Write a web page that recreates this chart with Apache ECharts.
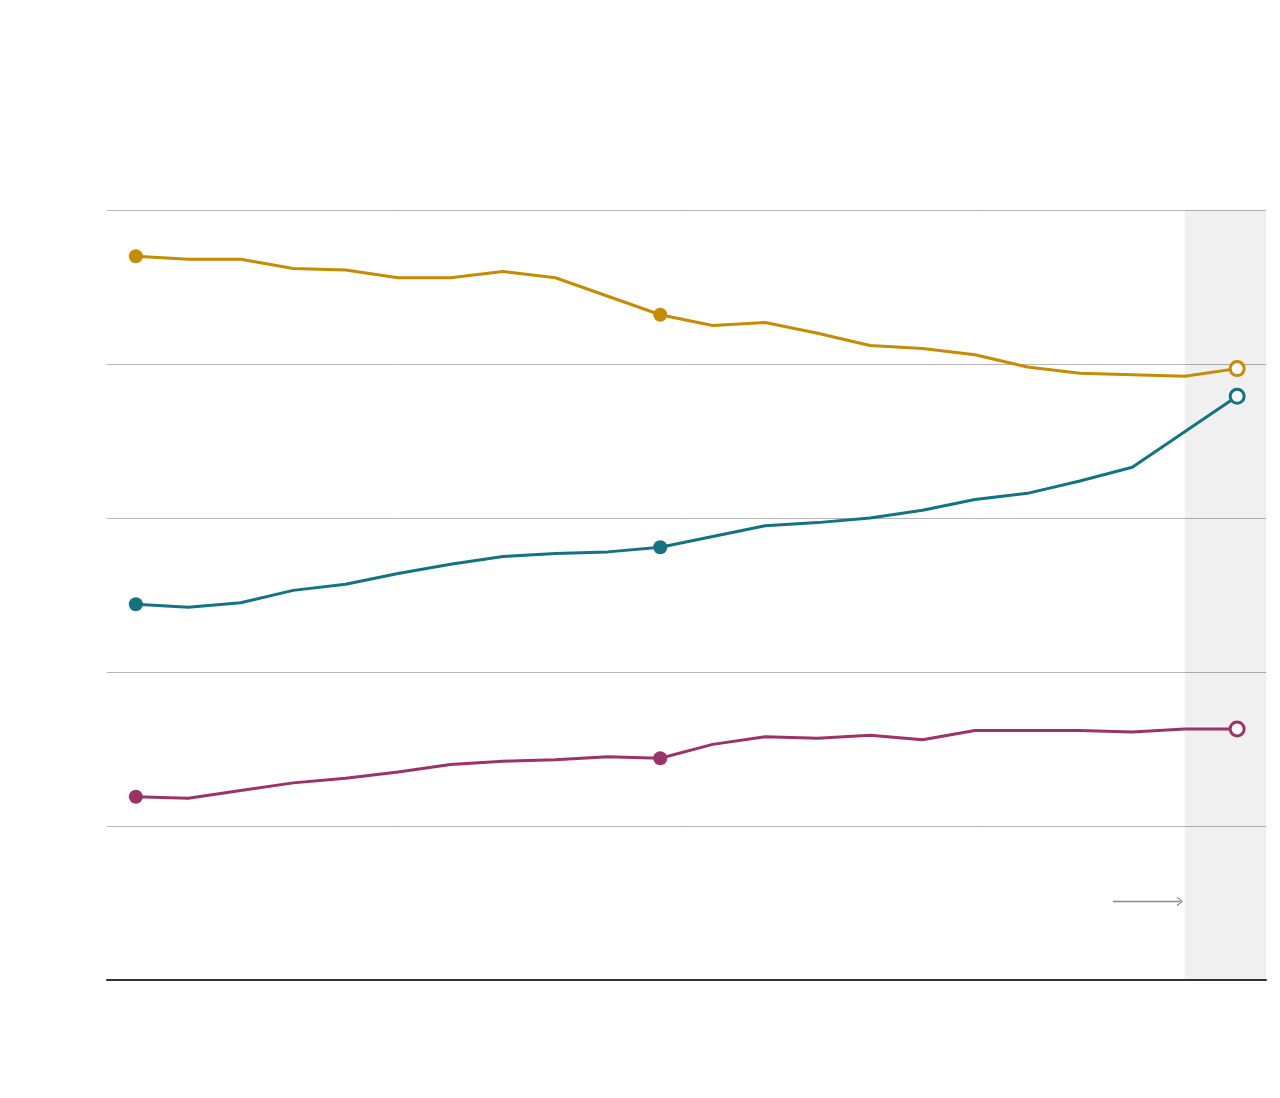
<!DOCTYPE html>
<html>
<head>
<meta charset="utf-8">
<script src="https://cdn.jsdelivr.net/npm/echarts@6/dist/echarts.min.js"></script>
<style>
  html, body { margin: 0; padding: 0; background: #fff; }
  #chart { width: 1280px; height: 1098px; }
</style>
</head>
<body>
<div id="chart"></div>
<script>
// x positions (periods), no labels are shown in the picture
const periods = [0, 1, 2, 3, 4, 5, 6, 7, 8, 9, 10, 11, 12, 13, 14, 15, 16, 17, 18, 19, 20, 21]

// series values (y axis 0..50)
const goldValues = [47.0, 46.8, 46.8, 46.2, 46.1, 45.6, 45.6, 46.0, 45.6, 44.4, 43.2, 42.5, 42.7, 42.0, 41.2, 41.0, 40.6, 39.8, 39.4, 39.3, 39.2, 39.7]
const tealValues = [24.4, 24.2, 24.5, 25.3, 25.7, 26.4, 27.0, 27.5, 27.7, 27.8, 28.1, 28.8, 29.5, 29.7, 30.0, 30.5, 31.2, 31.6, 32.4, 33.3, 35.6, 37.9]
const plumValues = [11.9, 11.8, 12.3, 12.8, 13.1, 13.5, 14.0, 14.2, 14.3, 14.5, 14.4, 15.3, 15.8, 15.7, 15.9, 15.6, 16.2, 16.2, 16.2, 16.1, 16.3, 16.3]

// which points carry a marker
const filledAt = [0, 10]
const hollowAt = [21]

// shaded projection band and arrow note
const shadeFrom = 20
const arrowFrom = [18.63, 5.1]
const arrowTo = [19.91, 5.1]

const chart = echarts.init(document.getElementById('chart'))

function buildData(values, color) {
  return values.map((v, i) => {
    if (filledAt.includes(i)) {
      return { value: [periods[i], v], symbol: 'circle', symbolSize: 14, itemStyle: { color: color, borderWidth: 0 } }
    }
    if (hollowAt.includes(i)) {
      return { value: [periods[i], v], symbol: 'circle', symbolSize: 14, itemStyle: { color: '#fff', borderColor: color, borderWidth: 3 } }
    }
    return { value: [periods[i], v], symbol: 'none' }
  })
}

function lineSeries(values, color) {
  return {
    type: 'line',
    data: buildData(values, color),
    showAllSymbol: true,
    lineStyle: { color: color, width: 3 },
    itemStyle: { color: color },
    emphasis: { disabled: true },
    z: 3
  }
}

const series = [
  lineSeries(goldValues, '#c68c00'),
  lineSeries(tealValues, '#137380'),
  lineSeries(plumValues, '#9c3366')
]

// shading + arrow on the first series
series[0].markArea = {
  silent: true,
  itemStyle: { color: 'rgba(0,0,0,0.06)' },
  data: [[{ xAxis: shadeFrom }, { xAxis: 21.55 }]]
}
series[0].markLine = {
  silent: true,
  symbol: ['none', 'path://M0,10 L5,0 L10,10 L8.4,10 L5,3.2 L1.6,10 Z'],
  symbolSize: [10, 6],
  label: { show: false },
  lineStyle: { color: '#8a8a8a', width: 1.3, type: 'solid' },
  data: [[{ coord: arrowFrom }, { coord: arrowTo }]]
}

chart.setOption({
  animation: false,
  grid: { left: 107, right: 14, top: 210, bottom: 118 },
  xAxis: {
    type: 'value',
    min: -0.55,
    max: 21.55,
    axisLabel: { show: false },
    axisTick: { show: false },
    splitLine: { show: false },
    axisLine: { show: true, onZero: false, lineStyle: { color: '#333', width: 2 } }
  },
  yAxis: {
    type: 'value',
    min: 0,
    max: 50,
    interval: 10,
    axisLabel: { show: false },
    axisTick: { show: false },
    axisLine: { show: false },
    splitLine: { lineStyle: { color: '#b5b5b5', width: 1 } }
  },
  series: series
})
</script>
</body>
</html>
